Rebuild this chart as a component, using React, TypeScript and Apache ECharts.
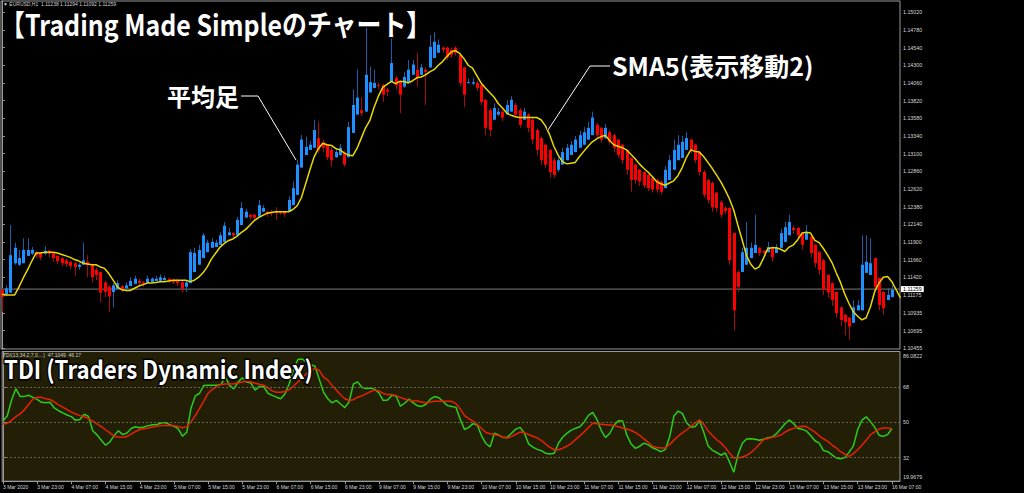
import { useEffect, useRef } from 'react';
import * as echarts from 'echarts';

const haOpen = [
1.1125,1.1119,1.1121,1.1161,1.1159,1.1161,1.1171,1.1174,1.1176,1.1175,
1.1174,1.1178,1.1175,1.1171,1.1168,1.1165,1.1163,1.1161,1.1156,1.1159,
1.1163,1.1159,1.1152,1.1149,1.1135,1.1129,1.1122,1.1126,1.1130,1.1127,
1.1130,1.1133,1.1137,1.1135,1.1134,1.1135,1.1137,1.1137,1.1138,1.1140,
1.1138,1.1138,1.1135,1.1129,1.1134,1.1149,1.1159,1.1168,1.1176,1.1182,
1.1183,1.1186,1.1190,1.1199,1.1202,1.1199,1.1213,1.1223,1.1227,1.1227,
1.1224,1.1231,1.1231,1.1231,1.1231,1.1231,1.1231,1.1231,1.1240,1.1254,
1.1291,1.1308,1.1315,1.1318,1.1331,1.1325,1.1322,1.1315,1.1305,1.1308,
1.1311,1.1305,1.1338,1.1363,1.1369,1.1367,1.1393,1.1399,1.1403,1.1403,
1.1397,1.1407,1.1413,1.1407,1.1401,1.1407,1.1417,1.1424,1.1417,1.1424,
1.1427,1.1440,1.1447,1.1454,1.1454,1.1451,1.1454,1.1444,1.1427,1.1406,
1.1405,1.1406,1.1403,1.1383,1.1369,1.1356,1.1363,1.1367,1.1363,1.1367,
1.1376,1.1369,1.1356,1.1363,1.1356,1.1342,1.1331,1.1322,1.1315,1.1301,
1.1288,1.1295,1.1301,1.1308,1.1312,1.1318,1.1322,1.1329,1.1335,1.1349,
1.1345,1.1331,1.1339,1.1335,1.1329,1.1322,1.1315,1.1304,1.1295,1.1288,
1.1285,1.1281,1.1277,1.1274,1.1272,1.1263,1.1274,1.1288,1.1301,1.1304,
1.1315,1.1329,1.1322,1.1312,1.1285,1.1274,1.1270,1.1257,1.1244,1.1236,
1.1236,1.1202,1.1149,1.1149,1.1159,1.1168,1.1175,1.1182,1.1178,1.1176,
1.1182,1.1175,1.1182,1.1190,1.1199,1.1209,1.1209,1.1202,1.1193,1.1197,
1.1186,1.1176,1.1165,1.1145,1.1134,1.1122,1.1101,1.1091,1.1087,1.1080,
1.1097,1.1097,1.1148,1.1145,1.1168,1.1141,1.1122,1.1111,1.1115
];
const haClose = [
1.1115,1.1127,1.1172,1.1182,1.1168,1.1179,1.1179,1.1179,1.1172,1.1169,
1.1178,1.1174,1.1168,1.1164,1.1161,1.1160,1.1157,1.1156,1.1159,1.1165,
1.1159,1.1142,1.1145,1.1121,1.1122,1.1116,1.1131,1.1134,1.1126,1.1131,
1.1137,1.1140,1.1134,1.1133,1.1140,1.1140,1.1140,1.1142,1.1141,1.1137,
1.1135,1.1134,1.1126,1.1135,1.1176,1.1175,1.1179,1.1199,1.1189,1.1190,
1.1189,1.1199,1.1212,1.1203,1.1199,1.1220,1.1236,1.1231,1.1224,1.1223,
1.1240,1.1236,1.1228,1.1229,1.1229,1.1229,1.1228,1.1247,1.1263,1.1295,
1.1329,1.1319,1.1322,1.1342,1.1315,1.1318,1.1305,1.1301,1.1312,1.1318,
1.1295,1.1346,1.1376,1.1386,1.1365,1.1417,1.1407,1.1406,1.1402,1.1390,
1.1394,1.1433,1.1403,1.1390,1.1414,1.1424,1.1431,1.1413,1.1427,1.1421,
1.1455,1.1462,1.1458,1.1451,1.1441,1.1444,1.1447,1.1406,1.1390,1.1407,
1.1407,1.1399,1.1380,1.1345,1.1342,1.1372,1.1367,1.1359,1.1376,1.1383,
1.1363,1.1349,1.1367,1.1345,1.1329,1.1315,1.1301,1.1295,1.1285,1.1281,
1.1301,1.1312,1.1318,1.1322,1.1329,1.1335,1.1339,1.1345,1.1359,1.1335,
1.1329,1.1345,1.1326,1.1318,1.1308,1.1301,1.1288,1.1274,1.1274,1.1272,
1.1267,1.1263,1.1261,1.1261,1.1258,1.1288,1.1301,1.1315,1.1322,1.1326,
1.1331,1.1315,1.1301,1.1285,1.1254,1.1247,1.1237,1.1236,1.1227,1.1232,
1.1165,1.1097,1.1129,1.1176,1.1182,1.1182,1.1186,1.1175,1.1175,1.1183,
1.1169,1.1182,1.1202,1.1210,1.1217,1.1206,1.1199,1.1186,1.1202,1.1175,
1.1161,1.1152,1.1125,1.1121,1.1111,1.1093,1.1084,1.1081,1.1075,1.1101,
1.1104,1.1159,1.1163,1.1161,1.1129,1.1104,1.1100,1.1118,1.1125
];
const haLow = [
1.1095,1.1116,1.1121,1.1159,1.1157,1.1161,1.1171,1.1172,1.1168,1.1165,
1.1172,1.1169,1.1163,1.1160,1.1157,1.1156,1.1153,1.1144,1.1152,1.1159,
1.1142,1.1135,1.1138,1.1108,1.1115,1.1095,1.1101,1.1125,1.1122,1.1126,
1.1130,1.1133,1.1131,1.1129,1.1134,1.1135,1.1137,1.1137,1.1137,1.1134,
1.1133,1.1130,1.1121,1.1122,1.1134,1.1149,1.1159,1.1168,1.1176,1.1182,
1.1183,1.1186,1.1190,1.1199,1.1195,1.1199,1.1213,1.1223,1.1220,1.1218,
1.1224,1.1231,1.1224,1.1225,1.1220,1.1227,1.1224,1.1231,1.1240,1.1254,
1.1291,1.1308,1.1315,1.1318,1.1311,1.1312,1.1301,1.1292,1.1304,1.1307,
1.1292,1.1305,1.1338,1.1363,1.1361,1.1367,1.1393,1.1399,1.1397,1.1380,
1.1388,1.1407,1.1397,1.1365,1.1399,1.1407,1.1417,1.1401,1.1417,1.1376,
1.1427,1.1440,1.1447,1.1447,1.1437,1.1440,1.1443,1.1402,1.1373,1.1405,
1.1403,1.1395,1.1376,1.1335,1.1333,1.1356,1.1361,1.1354,1.1363,1.1367,
1.1359,1.1345,1.1356,1.1339,1.1323,1.1308,1.1295,1.1291,1.1277,1.1277,
1.1285,1.1295,1.1301,1.1308,1.1312,1.1318,1.1322,1.1329,1.1335,1.1331,
1.1325,1.1330,1.1322,1.1312,1.1304,1.1296,1.1281,1.1258,1.1269,1.1266,
1.1263,1.1259,1.1257,1.1257,1.1254,1.1263,1.1274,1.1288,1.1301,1.1304,
1.1315,1.1311,1.1297,1.1280,1.1250,1.1242,1.1231,1.1231,1.1223,1.1228,
1.1159,1.1070,1.1122,1.1149,1.1159,1.1168,1.1175,1.1171,1.1171,1.1176,
1.1163,1.1175,1.1182,1.1190,1.1199,1.1201,1.1195,1.1179,1.1193,1.1169,
1.1155,1.1145,1.1118,1.1114,1.1103,1.1087,1.1076,1.1063,1.1057,1.1080,
1.1097,1.1097,1.1148,1.1145,1.1122,1.1097,1.1091,1.1111,1.1115
];
const haHigh = [
1.1127,1.1131,1.1213,1.1189,1.1179,1.1195,1.1195,1.1183,1.1178,1.1176,
1.1184,1.1179,1.1176,1.1172,1.1169,1.1167,1.1164,1.1163,1.1161,1.1189,
1.1172,1.1160,1.1155,1.1150,1.1137,1.1131,1.1134,1.1138,1.1131,1.1135,
1.1142,1.1144,1.1140,1.1137,1.1144,1.1142,1.1144,1.1146,1.1144,1.1141,
1.1140,1.1140,1.1137,1.1138,1.1180,1.1182,1.1186,1.1202,1.1193,1.1195,
1.1193,1.1203,1.1217,1.1209,1.1203,1.1224,1.1244,1.1235,1.1228,1.1228,
1.1247,1.1240,1.1232,1.1233,1.1237,1.1232,1.1232,1.1252,1.1272,1.1301,
1.1335,1.1333,1.1327,1.1356,1.1353,1.1329,1.1323,1.1318,1.1316,1.1323,
1.1314,1.1353,1.1397,1.1424,1.1387,1.1485,1.1428,1.1424,1.1406,1.1405,
1.1399,1.1467,1.1416,1.1410,1.1420,1.1437,1.1437,1.1447,1.1432,1.1427,
1.1471,1.1475,1.1465,1.1456,1.1455,1.1454,1.1456,1.1446,1.1428,1.1412,
1.1413,1.1409,1.1405,1.1384,1.1372,1.1378,1.1372,1.1369,1.1383,1.1388,
1.1379,1.1372,1.1372,1.1365,1.1359,1.1344,1.1333,1.1323,1.1316,1.1304,
1.1305,1.1318,1.1323,1.1327,1.1334,1.1341,1.1346,1.1353,1.1367,1.1352,
1.1346,1.1350,1.1342,1.1337,1.1330,1.1323,1.1316,1.1305,1.1296,1.1289,
1.1286,1.1282,1.1278,1.1276,1.1273,1.1293,1.1308,1.1329,1.1335,1.1334,
1.1339,1.1330,1.1323,1.1314,1.1288,1.1276,1.1272,1.1258,1.1247,1.1239,
1.1237,1.1203,1.1152,1.1182,1.1217,1.1189,1.1227,1.1183,1.1179,1.1190,
1.1184,1.1187,1.1208,1.1217,1.1227,1.1212,1.1210,1.1203,1.1213,1.1198,
1.1187,1.1178,1.1167,1.1146,1.1135,1.1123,1.1103,1.1092,1.1088,1.1111,
1.1111,1.1199,1.1199,1.1195,1.1169,1.1142,1.1123,1.1127,1.1131
];

// SMA5 of the price, drawn with a display shift of 2 bars (index 0..210)
const sma5 = [
1.1119,1.1118,1.1118,1.1118,1.1129,1.1141,1.1152,1.1164,1.1175,1.1175,
1.1176,1.1176,1.1176,1.1175,1.1173,1.1171,1.1169,1.1166,1.1164,1.1161,
1.1160,1.1159,1.1159,1.1156,1.1154,1.1147,1.1138,1.1129,1.1125,1.1124,
1.1124,1.1127,1.1130,1.1132,1.1134,1.1134,1.1135,1.1136,1.1136,1.1137,
1.1138,1.1138,1.1138,1.1138,1.1136,1.1138,1.1142,1.1148,1.1156,1.1167,
1.1175,1.1183,1.1188,1.1192,1.1194,1.1198,1.1203,1.1207,1.1213,1.1219,
1.1223,1.1226,1.1229,1.1230,1.1231,1.1231,1.1231,1.1231,1.1234,1.1239,
1.1250,1.1269,1.1288,1.1306,1.1317,1.1324,1.1322,1.1321,1.1317,1.1315,
1.1311,1.1308,1.1307,1.1317,1.1331,1.1345,1.1355,1.1373,1.1388,1.1400,
1.1404,1.1408,1.1405,1.1408,1.1408,1.1406,1.1409,1.1413,1.1414,1.1417,
1.1421,1.1424,1.1430,1.1435,1.1442,1.1448,1.1450,1.1446,1.1439,1.1430,
1.1426,1.1416,1.1406,1.1399,1.1393,1.1387,1.1378,1.1372,1.1365,1.1362,
1.1360,1.1359,1.1359,1.1359,1.1359,1.1359,1.1356,1.1348,1.1336,1.1320,
1.1308,1.1299,1.1296,1.1297,1.1298,1.1306,1.1313,1.1320,1.1326,1.1330,
1.1333,1.1335,1.1328,1.1322,1.1320,1.1318,1.1315,1.1309,1.1303,1.1296,
1.1290,1.1285,1.1279,1.1272,1.1269,1.1267,1.1270,1.1273,1.1280,1.1291,
1.1305,1.1315,1.1313,1.1312,1.1306,1.1298,1.1290,1.1281,1.1272,1.1261,
1.1249,1.1234,1.1213,1.1193,1.1172,1.1160,1.1153,1.1156,1.1168,1.1181,
1.1182,1.1182,1.1180,1.1177,1.1183,1.1186,1.1193,1.1202,1.1203,1.1202,
1.1192,1.1189,1.1181,1.1172,1.1162,1.1148,1.1135,1.1119,1.1106,1.1095,
1.1089,1.1084,1.1087,1.1102,1.1123,1.1134,1.1142,1.1143,1.1136,1.1125,1.1114
];

// TDI: RSI price line (green) and trade signal line (red)
const tdiPrice = [
50.6,53.3,61.2,67.1,63.2,63.2,63.8,62.7,61.7,60.2,
60.0,60.2,57.3,55.9,54.8,53.7,52.9,51.0,51.4,54.1,
53.0,45.7,43.6,40.8,38.3,40.0,43.2,45.7,43.7,44.5,
46.8,47.7,47.2,47.6,48.3,48.7,48.9,49.6,49.9,48.8,
48.0,46.6,42.9,44.9,57.2,63.5,64.8,68.8,68.9,68.9,
68.9,69.2,73.2,68.8,67.0,70.4,72.7,70.5,70.0,66.4,
68.3,68.1,64.8,63.7,62.8,62.0,64.5,69.8,77.0,82.0,
82.2,81.0,79.4,78.6,72.0,65.4,62.0,59.9,61.2,59.3,
57.5,60.5,69.5,70.6,67.7,67.2,67.4,66.8,64.9,61.1,
61.3,63.8,63.4,58.2,59.7,61.8,59.9,58.4,58.1,59.2,
61.8,63.1,62.5,60.5,58.5,58.0,57.6,51.5,46.3,47.4,
49.3,48.5,43.0,39.2,37.5,44.5,43.5,42.3,42.3,44.4,
46.5,47.4,44.5,39.0,37.3,36.2,35.5,34.2,33.8,34.2,
39.4,42.5,44.5,46.0,47.0,47.7,50.2,53.5,55.1,51.3,
45.8,42.2,44.4,48.6,50.8,50.7,43.3,38.9,36.7,37.8,
39.4,38.5,37.0,36.1,35.0,36.2,42.6,53.2,55.7,54.4,
49.6,47.5,47.9,50.6,44.8,37.9,35.7,34.6,33.2,34.4,
29.8,24.5,33.5,39.3,41.5,41.6,41.4,40.8,41.4,42.1,
42.5,44.2,46.7,49.3,51.1,49.4,46.8,46.4,45.6,43.3,
40.6,39.4,35.6,35.0,33.4,31.8,31.4,32.0,34.8,38.0,
46.3,51.1,52.8,50.3,47.4,43.4,42.8,43.8,46.7
];
const tdiSignal = [
49.0,49.5,51.0,52.9,54.3,56.3,59.1,61.8,62.8,62.7,
62.0,61.6,60.4,58.9,57.7,56.5,55.2,54.2,53.4,52.8,
51.9,50.6,49.2,47.8,46.2,44.6,42.9,42.5,42.4,42.7,
44.0,45.3,46.3,46.7,47.1,47.6,48.0,48.3,48.4,48.4,
48.2,47.8,47.2,47.8,50.2,53.4,57.1,60.9,64.9,66.7,
68.3,69.3,69.5,69.5,69.7,70.0,70.5,70.9,70.5,69.9,
69.4,68.9,67.6,66.0,65.3,65.3,65.7,66.6,68.5,70.5,
72.4,74.7,76.5,77.5,76.5,73.0,71.5,68.8,66.4,64.0,
62.0,61.1,61.5,62.8,63.5,64.6,65.7,66.4,65.9,64.7,
64.1,64.1,63.6,62.7,61.9,61.3,60.9,60.8,60.3,59.8,
60.4,60.7,60.7,60.7,60.7,60.7,59.5,56.8,53.4,51.9,
50.5,48.8,46.8,44.8,44.2,43.8,43.3,42.4,42.0,42.7,
43.9,45.0,44.7,43.8,42.9,42.0,40.7,38.9,37.2,36.0,
36.0,36.8,37.9,39.3,41.3,43.1,45.1,47.3,49.5,49.2,
49.0,48.8,48.6,48.3,47.7,47.1,46.6,45.8,44.7,43.3,
41.5,39.8,37.8,37.2,36.9,37.0,38.7,40.9,42.9,44.6,
46.2,48.0,49.7,51.3,48.9,45.6,43.3,41.1,39.5,37.2,
34.3,31.8,31.8,32.3,33.1,34.5,36.5,38.8,41.2,41.7,
42.3,42.8,43.5,45.0,46.2,46.9,47.5,48.0,47.8,46.4,
45.0,43.1,41.6,40.3,38.4,36.9,35.0,33.7,32.6,34.0,
36.0,38.3,40.8,43.7,45.1,46.5,47.1,47.1,46.7
];

const priceTicks = [
1.1502,1.1478,1.1454,1.1430,1.1406,1.1382,1.1358,1.1334,1.1310,1.1286,
1.1262,1.1238,1.1214,1.1190,1.1166,1.1142,1.11175,1.10935,1.10695,1.10455
];
const tdiTicks = [86.0822, 68, 50, 32, 19.9679];
const tdiLevels = [68, 50, 32];
const timeLabels = [
'3 Mar 2020','3 Mar 23:00','4 Mar 07:00','4 Mar 15:00','4 Mar 23:00','5 Mar 07:00',
'5 Mar 15:00','5 Mar 23:00','6 Mar 07:00','6 Mar 15:00','6 Mar 23:00','9 Mar 07:00',
'9 Mar 15:00','9 Mar 23:00','10 Mar 07:00','10 Mar 15:00','10 Mar 23:00','11 Mar 07:00',
'11 Mar 15:00','11 Mar 23:00','12 Mar 07:00','12 Mar 15:00','12 Mar 23:00','13 Mar 07:00',
'13 Mar 15:00','13 Mar 23:00','16 Mar 07:00'
];
const barsPerLabel = 8;
const lastPrice = 1.11259;
const headerText = '\u25BC EURUSD,H1  1.11238 1.11294 1.11092 1.11259';
const tdiHeaderText = 'TDI(13,34,2,7,0,...)  47.1049  46.17';

const BLUE = '#1e90ff';
const RED = '#ff0000';
const WICK_BLUE = '#1d5fa6';
const WICK_RED = '#a30d0d';
const AXIS = '#9a9a9a';
const LABEL = '#d8d8d8';
const SMALL_FONT = 'Liberation Sans';
const JP_FONT = '"Noto Sans CJK JP", "Noto Sans", sans-serif';

export default function App() {
  const ref = useRef<HTMLDivElement>(null);
  useEffect(() => {
    document.body.style.margin = '0';
    document.body.style.background = '#000';
    const chart = echarts.init(ref.current as HTMLDivElement, null, { renderer: 'svg' });
    const xMin = -0.2;
    const xMax = 209.9;
    const candleData = haOpen.map((o, i) => [i, o, haClose[i], haLow[i], haHigh[i]]);
    const timeTicks = timeLabels.map((_, k) => k * barsPerLabel);

    const renderCandle = (params: any, api: any) => {
      const i = api.value(0);
      const o = api.value(1);
      const c = api.value(2);
      const l = api.value(3);
      const h = api.value(4);
      const up = c >= o;
      const pO = api.coord([i, o]);
      const pC = api.coord([i, c]);
      const pL = api.coord([i, l]);
      const pH = api.coord([i, h]);
      const x0 = Math.round(pO[0]);
      const top = Math.min(pO[1], pC[1]);
      const bot = Math.max(pO[1], pC[1]);
      return {
        type: 'group',
        children: [
          {
            type: 'line',
            shape: { x1: x0 + 0.5, y1: pH[1], x2: x0 + 0.5, y2: pL[1] },
            style: { stroke: up ? WICK_BLUE : WICK_RED, lineWidth: 1 },
          },
          {
            type: 'rect',
            shape: { x: x0 - 1, y: top, width: 3, height: Math.max(bot - top, 1) },
            style: { fill: up ? BLUE : RED },
          },
        ],
      };
    };

    const outlined = (extra: any) => ({
      fill: '#ffffff',
      stroke: '#000000',
      lineWidth: 3,
      fontWeight: 'bold',
      fontFamily: JP_FONT,
      verticalAlign: 'middle',
      ...extra,
    });

    const option: any = {
      animation: false,
      backgroundColor: '#000',
      grid: [
        { left: 1, top: 1, width: 899, height: 348, show: true, backgroundColor: '#000', borderColor: AXIS, borderWidth: 1 },
        { left: 1, top: 351.5, width: 899, height: 129.7, show: true, backgroundColor: '#221f06', borderColor: AXIS, borderWidth: 1 },
      ],
      xAxis: [
        {
          type: 'value', gridIndex: 0, min: xMin, max: xMax,
          axisLine: { show: false }, axisTick: { show: false }, axisLabel: { show: false }, splitLine: { show: false },
        },
        {
          type: 'value', gridIndex: 1, min: xMin, max: xMax, position: 'bottom',
          axisLine: { show: true, lineStyle: { color: AXIS } },
          axisTick: { show: true, customValues: timeTicks, length: 3, lineStyle: { color: AXIS } },
          axisLabel: {
            customValues: timeTicks,
            formatter: (v: number) => timeLabels[Math.round(v / barsPerLabel)] || '',
            align: 'left', color: LABEL, fontSize: 5, fontFamily: SMALL_FONT, margin: 3,
          },
          splitLine: { show: false },
        },
      ],
      yAxis: [
        {
          type: 'value', gridIndex: 0, position: 'right', min: 1.10445, max: 1.15173,
          axisLine: { show: true, lineStyle: { color: AXIS } },
          axisTick: { show: true, customValues: priceTicks, length: 3, lineStyle: { color: AXIS } },
          axisLabel: {
            customValues: priceTicks,
            formatter: (v: number) => v.toFixed(5),
            color: LABEL, fontSize: 5.3, fontFamily: SMALL_FONT, margin: 3,
          },
          splitLine: { show: false },
        },
        {
          type: 'value', gridIndex: 1, position: 'right', min: 19.9679, max: 86.0822,
          axisLine: { show: true, lineStyle: { color: AXIS } },
          axisTick: { show: true, customValues: tdiTicks, length: 3, lineStyle: { color: AXIS } },
          axisLabel: {
            customValues: tdiTicks,
            formatter: (v: number) => {
              if (v === tdiTicks[0]) return '{t|' + v + '}';
              if (v === tdiTicks[tdiTicks.length - 1]) return '{b|' + v + '}';
              return '{m|' + v + '}';
            },
            color: LABEL, fontSize: 5.3, fontFamily: SMALL_FONT, margin: 3,
            rich: {
              t: { padding: [8, 0, 0, 0], fontSize: 5.3, color: LABEL, fontFamily: SMALL_FONT },
              b: { padding: [0, 0, 8, 0], fontSize: 5.3, color: LABEL, fontFamily: SMALL_FONT },
              m: { fontSize: 5.3, color: LABEL, fontFamily: SMALL_FONT },
            },
          },
          splitLine: { show: false },
        },
      ],
      series: [
        {
          type: 'line', name: 'Last price', xAxisIndex: 0, yAxisIndex: 0, z: 2,
          data: [[xMin, lastPrice], [xMax, lastPrice]],
          showSymbol: false, symbol: 'none', silent: true,
          lineStyle: { color: '#7d7d7d', width: 1 },
          endLabel: {
            show: true, distance: 1,
            formatter: () => lastPrice.toFixed(5),
            color: '#000', backgroundColor: '#ffffff', fontSize: 5.3, fontFamily: SMALL_FONT, padding: [1, 2, 0, 2],
          },
        },
        {
          type: 'custom', name: 'Heikin Ashi', xAxisIndex: 0, yAxisIndex: 0, z: 3,
          renderItem: renderCandle,
          encode: { x: 0, y: [1, 2, 3, 4] },
          data: candleData,
          clip: true,
        },
        {
          type: 'line', name: 'SMA5', xAxisIndex: 0, yAxisIndex: 0, z: 4,
          data: sma5.map((v, i) => [i, v]),
          showSymbol: false, symbol: 'none', clip: true,
          lineStyle: { color: '#e8d800', width: 1.5 },
        },
        {
          type: 'line', name: 'TDI price', xAxisIndex: 1, yAxisIndex: 1, z: 3,
          data: tdiPrice.map((v, i) => [i, v]),
          showSymbol: false, symbol: 'none',
          lineStyle: { color: '#2ccc1a', width: 1.5 },
          markLine: {
            silent: true, symbol: ['none', 'none'], animation: false,
            lineStyle: { color: '#6e6b52', width: 1, type: [2, 2] },
            label: { show: false },
            data: tdiLevels.map((v) => ({ yAxis: v })),
          },
        },
        {
          type: 'line', name: 'TDI signal', xAxisIndex: 1, yAxisIndex: 1, z: 4,
          data: tdiSignal.map((v, i) => [i, v]),
          showSymbol: false, symbol: 'none',
          lineStyle: { color: '#e62200', width: 1.5 },
        },
      ],
      graphic: [
        { type: 'text', x: 3, y: 4, z: 50, style: { text: headerText, fill: '#cfcfcf', fontSize: 5, fontFamily: SMALL_FONT, verticalAlign: 'middle' } },
        { type: 'text', x: 3, y: 354.5, z: 50, style: { text: tdiHeaderText, fill: '#cfcfcf', fontSize: 5, fontFamily: SMALL_FONT, verticalAlign: 'middle' } },
        { type: 'text', x: 0, y: 24, z: 100, scaleX: 0.86, style: outlined({ text: '【Trading Made Simpleのチャート】', fontSize: 29 }) },
        { type: 'polyline', z: 99, shape: { points: [[241, 96], [258, 96], [296, 160]] }, style: { stroke: '#000', lineWidth: 3, fill: null } },
        { type: 'polyline', z: 100, shape: { points: [[241, 96], [258, 96], [296, 160]] }, style: { stroke: '#fff', lineWidth: 1, fill: null } },
        { type: 'text', x: 167, y: 95, z: 100, style: outlined({ text: '平均足', fontSize: 24 }) },
        { type: 'polyline', z: 99, shape: { points: [[610, 66], [590, 66], [548, 130]] }, style: { stroke: '#000', lineWidth: 3, fill: null } },
        { type: 'polyline', z: 100, shape: { points: [[610, 66], [590, 66], [548, 130]] }, style: { stroke: '#fff', lineWidth: 1, fill: null } },
        { type: 'text', x: 612, y: 65, z: 100, style: outlined({ text: 'SMA5(表示移動2)', fontSize: 25 }) },
        { type: 'text', x: 4, y: 368, z: 100, scaleX: 0.89, style: outlined({ text: 'TDI (Traders Dynamic Index)', fontSize: 25 }) },
      ],
    };
    chart.setOption(option);
    return () => chart.dispose();
  }, []);
  return <div ref={ref} style={{ width: 1024, height: 493, background: '#000' }} />;
}
